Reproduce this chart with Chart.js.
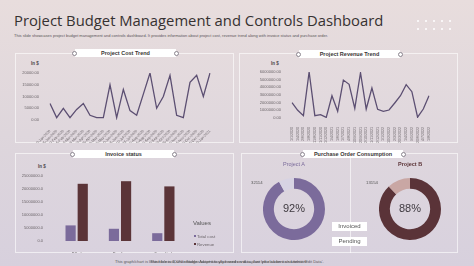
<!DOCTYPE html>
<html><head><meta charset="utf-8">
<script src="https://cdn.jsdelivr.net/npm/chart.js@4.4.1/dist/chart.umd.min.js"></script>
<style>
html,body{margin:0;padding:0;}
body{width:474px;height:266px;overflow:hidden;position:relative;background:linear-gradient(180deg,#e8dddd 0%,#ded6dc 50%,#d7d0dd 100%);font-family:"Liberation Sans",Arial,sans-serif;}
.abs{position:absolute;white-space:nowrap;}
.title{left:14px;top:10px;font-family:"Open Sans",sans-serif;font-size:14.8px;color:#363131;}
.sub{left:14px;top:33px;font-size:4px;color:#5a5458;}
.panel{position:absolute;border:1px solid rgba(255,255,255,0.6);box-sizing:border-box;background:rgba(255,255,255,0.04);}
.hdr{position:absolute;background:#fff;height:8px;font-weight:bold;font-size:5.5px;line-height:8px;text-align:center;color:#3a3636;}
.endc{position:absolute;width:3px;height:3px;border-radius:50%;background:#fff;border:0.6px solid #8c8690;}
.dot{position:absolute;width:2px;height:2px;border-radius:50%;background:#fff;}
.ins{font-size:4.5px;font-weight:bold;color:#4a4448;}
canvas{position:absolute;}
.pct{font-size:11px;color:#3f3a40;}
.btn{position:absolute;background:#fff;width:35px;height:9px;line-height:9px;text-align:center;font-size:6px;color:#555;}
.leg{font-size:4.3px;color:#6a6468;}
.sq{display:inline-block;width:2px;height:2px;margin-right:1px;vertical-align:middle;}
</style></head>
<body>
<div class="abs title">Project Budget Management and Controls Dashboard</div>
<div class="abs sub">This slide showcases project budget management and controls dashboard. It provides information about project cost, revenue trend along with invoice status and purchase order.</div>
<div id="dots"></div>

<div class="panel" style="left:15px;top:53px;width:219px;height:90px;"></div>
<div class="panel" style="left:239px;top:53px;width:219px;height:90px;"></div>
<div class="panel" style="left:15px;top:153px;width:219px;height:100px;"></div>
<div class="panel" style="left:241px;top:153px;width:217px;height:100px;"></div>
<div class="abs" style="left:350px;top:158px;width:1px;height:95px;background:rgba(255,255,255,0.6);"></div>

<div class="hdr" style="left:75px;top:49px;width:101px;">Project Cost Trend</div>
<div class="endc" style="left:72px;top:51px;"></div><div class="endc" style="left:174px;top:51px;"></div>
<div class="hdr" style="left:299px;top:50px;width:101px;">Project Revenue Trend</div>
<div class="endc" style="left:296px;top:52px;"></div><div class="endc" style="left:398px;top:52px;"></div>
<div class="hdr" style="left:73px;top:150px;width:101px;">Invoice status</div>
<div class="endc" style="left:70px;top:152px;"></div><div class="endc" style="left:172px;top:152px;"></div>
<div class="hdr" style="left:303px;top:150px;width:100px;">Purchase Order Consumption</div>
<div class="endc" style="left:300px;top:152px;"></div><div class="endc" style="left:401px;top:152px;"></div>

<div class="abs ins" style="left:31px;top:61px;">In $</div>
<div class="abs ins" style="left:271px;top:61px;">In $</div>
<div class="abs ins" style="left:38px;top:164px;">In $</div>

<canvas id="cost" width="219" height="83" style="left:15px;top:60px;"></canvas>
<canvas id="rev" width="219" height="83" style="left:239px;top:60px;"></canvas>
<canvas id="inv" width="219" height="93" style="left:15px;top:160px;"></canvas>

<div class="abs leg" style="left:193px;top:220px;font-size:6px;color:#555;">Values</div>
<div class="abs leg" style="left:194px;top:233.5px;"><span class="sq" style="background:#7b6b9b"></span>Total cost</div>
<div class="abs leg" style="left:194px;top:241.5px;"><span class="sq" style="background:#5b3438"></span>Revenue</div>

<div class="abs" id="pA" style="top:161px;font-size:5.5px;color:#7b6b9b;"></div>
<div class="abs" id="pB" style="top:161px;font-size:5.5px;color:#5b3438;font-weight:bold;"></div>
<div class="abs leg" id="vA" style="left:251px;top:179.5px;color:#555;"></div>
<div class="abs leg" id="vB" style="left:366px;top:179.5px;color:#555;"></div>
<canvas id="dA" width="62" height="62" style="left:263px;top:178px;"></canvas>
<canvas id="dB" width="62" height="62" style="left:379px;top:178px;"></canvas>
<div class="abs pct" id="cA" style="left:263px;top:202px;width:62px;text-align:center;"></div>
<div class="abs pct" id="cB" style="left:379px;top:202px;width:62px;text-align:center;"></div>
<div class="btn" style="left:332px;top:222px;">Invoiced</div>
<div class="btn" style="left:332px;top:237px;">Pending</div>

<div class="abs" style="left:115px;top:259px;font-size:4px;color:#555;">This graph/chart is linked to excel, and changes automatically based on data. Just left click on it and select 'Edit Data'.</div>
<div class="abs" style="left:150px;top:259px;font-size:4px;color:#555;">This slide is 100% editable. Adapt it to your needs and capture your audience's attention.</div>

<script>
const costLabels = ['10-Jan-2020','25-Jan-2020','10-Feb-2020','25-Feb-2020','10-Mar-2020','25-Mar-2020','10-Apr-2020','25-Apr-2020','10-May-2020','25-May-2020','10-Jun-2020','25-Jun-2020','10-Jul-2020','25-Jul-2020','10-Aug-2020','25-Aug-2020','10-Sep-2020','25-Sep-2020','10-Oct-2020','25-Oct-2020','10-Nov-2020','25-Nov-2020','10-Dec-2020','25-Dec-2020','10-Jan-2021'];
const costValues = [7000,1000,5000,1000,4500,7000,2000,1000,1000,15000,1000,13000,4000,2000,11000,20000,5000,10000,19000,2000,1000,16000,19000,10000,20000];
const costTicks = [0,5000,10000,15000,20000];

const revenueLabels = ['1/1/2020','1/4/2020','2/6/2020','1/8/2020','11/8/2020','1/11/2020','1/12/2020','1/4/2021','1/6/2021','1/7/2021','4/8/2021','10/9/2021','20/9/2021','2/10/2021','11/11/2021','2/12/2021','1/1/2022','10/2/2022','2/3/2022','20/3/2022','1/4/2022','9/5/2022','20/6/2022','4/7/2022','1/8/2022'];
const revenueValues = [2000000,1000000,300000,6000000,300000,430000,80000,2900000,870000,4950000,4400000,1250000,5900000,1170000,3900000,1130000,870000,1040000,1960000,2900000,4350000,3430000,100000,1170000,2900000];
const revenueTicks = [0,1000000,2000000,3000000,4000000,5000000,6000000];

const invoiceCategories = ['Billed','Pending','Expedited'];
const invoiceTotalCost = [6000000,4700000,3000000];
const invoiceRevenue = [22000000,23000000,21000000];
const invoiceTicks = [0,5000000,10000000,15000000,20000000,25000000];

const poProjects = ['Project A','Project B'];
const poInvoicedPct = [92,88];
const poPendingPct = [8,12];
const poPendingValues = [32114,13154];
const poSegments = ['Invoiced','Pending'];

// decorative dots
(function(){const d=document.getElementById('dots');let h='';
for(const y of [20,28]) for(const x of [417,425,433,441,449]) h+=`<div class="dot" style="left:${x}px;top:${y}px"></div>`;d.innerHTML=h;})();

Chart.defaults.font.family = '"Liberation Sans", Arial, sans-serif';
Chart.defaults.font.size = 4;
Chart.defaults.color = '#6a6468';
Chart.defaults.animation = false;

function fixY(w){return function(s){s.width=w;s.paddingTop=0;s.paddingBottom=0;};}
function fixX(h){return function(s){s.height=h;s.paddingLeft=0;s.paddingRight=0;};}

function lineChart(id, labels, values, ticks, dec, rot, yW, xH, pad){
  new Chart(document.getElementById(id),{
    type:'line',
    data:{labels:labels,datasets:[{data:values,borderColor:'#5c4f72',borderWidth:1.3,pointRadius:0,tension:0,fill:false}]},
    options:{responsive:false,devicePixelRatio:1,
      layout:{padding:pad},
      plugins:{legend:{display:false},tooltip:{enabled:false}},
      scales:{
        x:{offset:false,grid:{display:false},border:{display:false},
           ticks:{autoSkip:false,minRotation:rot,maxRotation:rot,padding:1,font:{size:3.6}},afterFit:fixX(xH)},
        y:{min:ticks[0],max:ticks[ticks.length-1],grid:{display:false},border:{display:false},
           afterBuildTicks:function(s){s.ticks=ticks.map(v=>({value:v}));},
           ticks:{autoSkip:false,padding:3,callback:v=>Number(v).toFixed(dec)},afterFit:fixY(yW)}
      }}
  });
}
lineChart('cost',costLabels,costValues,costTicks,2,45,35,23,{left:0,right:24,top:13,bottom:0});
lineChart('rev',revenueLabels,revenueValues,revenueTicks,2,90,53,25,{left:0,right:29,top:12,bottom:0});

new Chart(document.getElementById('inv'),{
  type:'bar',
  data:{labels:invoiceCategories,datasets:[
    {label:'Total cost',data:invoiceTotalCost,backgroundColor:'#7b6b9b'},
    {label:'Revenue',data:invoiceRevenue,backgroundColor:'#5b3438'}]},
  options:{responsive:false,devicePixelRatio:1,
    layout:{padding:{left:0,right:49,top:16,bottom:0}},
    datasets:{bar:{categoryPercentage:0.56,barPercentage:0.84}},
    plugins:{legend:{display:false},tooltip:{enabled:false}},
    scales:{
      x:{grid:{display:false},border:{display:false},ticks:{padding:2,color:'#5a5458'},afterFit:fixX(12)},
      y:{min:0,max:25000000,grid:{display:false},border:{display:false},
         afterBuildTicks:function(s){s.ticks=invoiceTicks.map(v=>({value:v}));},
         ticks:{autoSkip:false,padding:4,callback:v=>Number(v).toFixed(1)},afterFit:fixY(40)}
    }}
});

const dColors=[['#7b6b9b','#d7d3e3'],['#5a3338','#c9a7a4']];
['dA','dB'].forEach((id,i)=>{
  new Chart(document.getElementById(id),{
    type:'doughnut',
    data:{labels:poSegments,datasets:[{data:[poInvoicedPct[i],poPendingPct[i]],backgroundColor:dColors[i],borderWidth:0}]},
    options:{responsive:false,devicePixelRatio:1,cutout:'65%',
      plugins:{legend:{display:false},tooltip:{enabled:false}}}
  });
});
document.getElementById('cA').textContent=poInvoicedPct[0]+'%';
document.getElementById('cB').textContent=poInvoicedPct[1]+'%';
document.getElementById('vA').textContent=poPendingValues[0];
document.getElementById('vB').textContent=poPendingValues[1];
const pA=document.getElementById('pA'),pB=document.getElementById('pB');
pA.textContent=poProjects[0];pB.textContent=poProjects[1];
pA.style.left=(294-pA.offsetWidth/2)+'px';pB.style.left=(410-pB.offsetWidth/2)+'px';
</script>
</body></html>
